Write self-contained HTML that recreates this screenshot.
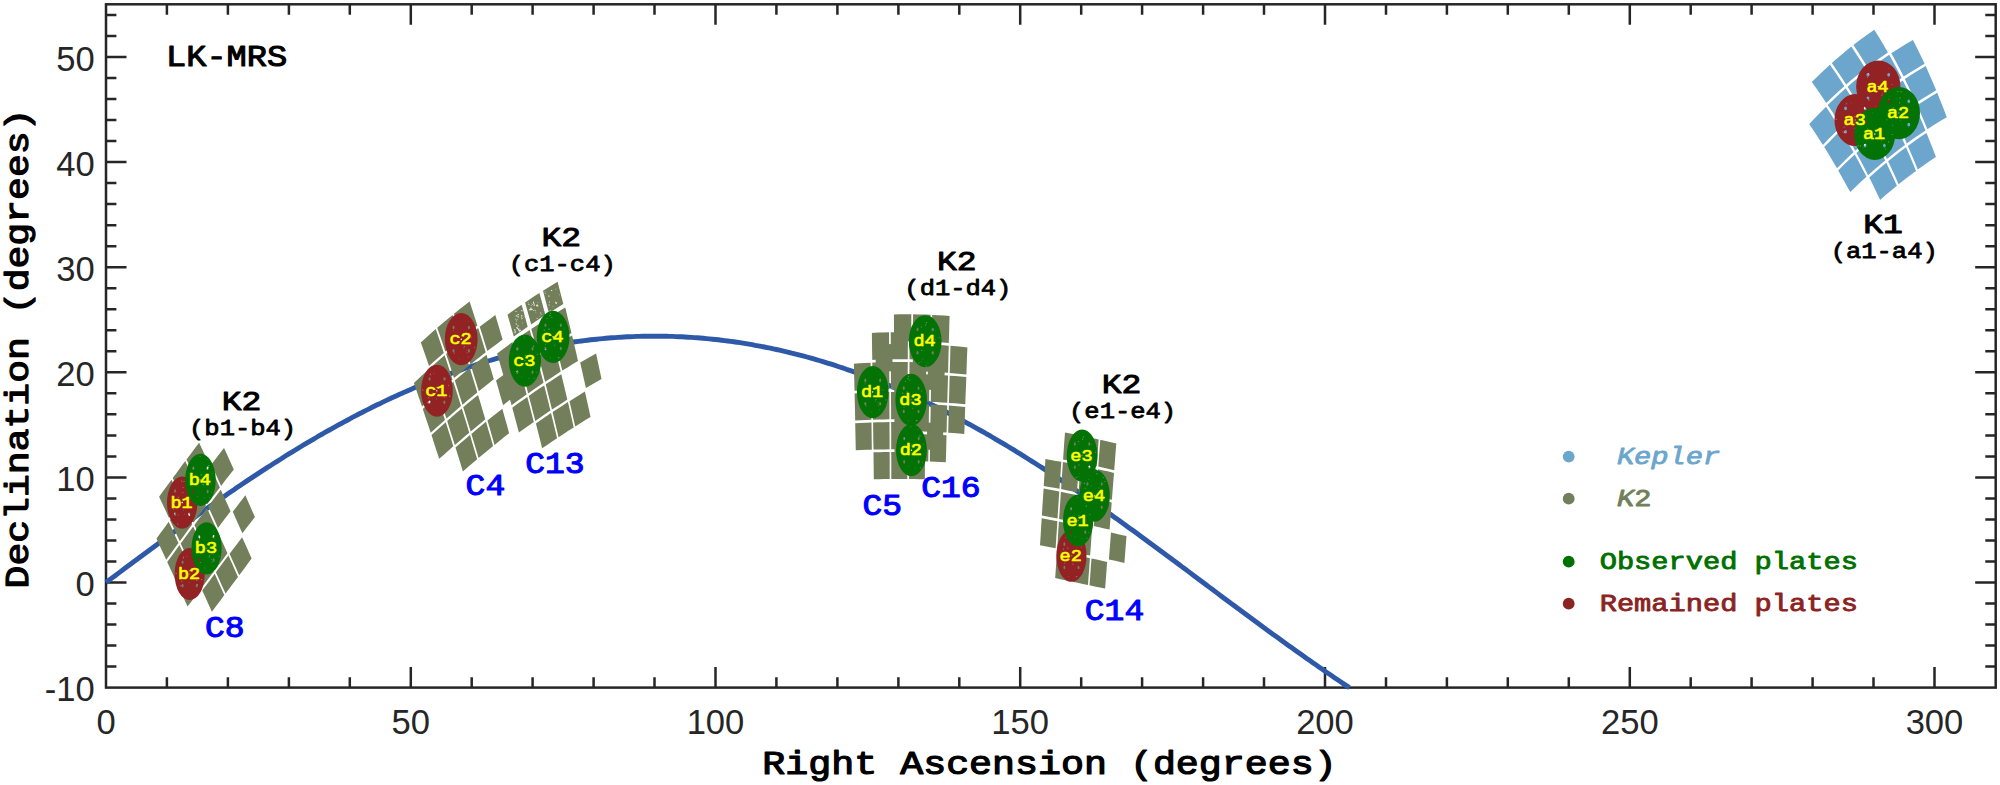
<!DOCTYPE html>
<html><head><meta charset="utf-8"><title>LK-MRS footprint</title>
<style>
html,body{margin:0;padding:0;background:#fff}
body{width:2000px;height:785px;overflow:hidden}
svg{display:block}
.m{font-family:"Liberation Mono","DejaVu Sans Mono",monospace;font-weight:normal;stroke-linejoin:round}
.s{font-family:"Liberation Sans","DejaVu Sans",sans-serif}
</style></head><body>
<svg width="2000" height="785" viewBox="0 0 2000 785">
<rect width="2000" height="785" fill="#fff"/>
<g stroke="#262626" stroke-width="2.5" fill="none">
<rect x="106.0" y="4.3" width="1889.7" height="683.3"/>
<path d="M166.9 687.6v-10.4M166.9 4.3v10.4M227.9 687.6v-10.4M227.9 4.3v10.4M288.9 687.6v-10.4M288.9 4.3v10.4M349.8 687.6v-10.4M349.8 4.3v10.4M410.8 687.6v-20.5M410.8 4.3v20.5M471.7 687.6v-10.4M471.7 4.3v10.4M532.6 687.6v-10.4M532.6 4.3v10.4M593.6 687.6v-10.4M593.6 4.3v10.4M654.5 687.6v-10.4M654.5 4.3v10.4M715.5 687.6v-20.5M715.5 4.3v20.5M776.4 687.6v-10.4M776.4 4.3v10.4M837.4 687.6v-10.4M837.4 4.3v10.4M898.4 687.6v-10.4M898.4 4.3v10.4M959.3 687.6v-10.4M959.3 4.3v10.4M1020.2 687.6v-20.5M1020.2 4.3v20.5M1081.2 687.6v-10.4M1081.2 4.3v10.4M1142.1 687.6v-10.4M1142.1 4.3v10.4M1203.1 687.6v-10.4M1203.1 4.3v10.4M1264.0 687.6v-10.4M1264.0 4.3v10.4M1325.0 687.6v-20.5M1325.0 4.3v20.5M1386.0 687.6v-10.4M1386.0 4.3v10.4M1446.9 687.6v-10.4M1446.9 4.3v10.4M1507.8 687.6v-10.4M1507.8 4.3v10.4M1568.8 687.6v-10.4M1568.8 4.3v10.4M1629.8 687.6v-20.5M1629.8 4.3v20.5M1690.7 687.6v-10.4M1690.7 4.3v10.4M1751.6 687.6v-10.4M1751.6 4.3v10.4M1812.6 687.6v-10.4M1812.6 4.3v10.4M1873.5 687.6v-10.4M1873.5 4.3v10.4M1934.5 687.6v-20.5M1934.5 4.3v20.5M106.0 666.6h10.4M1995.7 666.6h-10.4M106.0 645.6h10.4M1995.7 645.6h-10.4M106.0 624.5h10.4M1995.7 624.5h-10.4M106.0 603.5h10.4M1995.7 603.5h-10.4M106.0 582.5h20.5M1995.7 582.5h-20.5M106.0 561.5h10.4M1995.7 561.5h-10.4M106.0 540.5h10.4M1995.7 540.5h-10.4M106.0 519.4h10.4M1995.7 519.4h-10.4M106.0 498.4h10.4M1995.7 498.4h-10.4M106.0 477.4h20.5M1995.7 477.4h-20.5M106.0 456.4h10.4M1995.7 456.4h-10.4M106.0 435.4h10.4M1995.7 435.4h-10.4M106.0 414.3h10.4M1995.7 414.3h-10.4M106.0 393.3h10.4M1995.7 393.3h-10.4M106.0 372.3h20.5M1995.7 372.3h-20.5M106.0 351.3h10.4M1995.7 351.3h-10.4M106.0 330.3h10.4M1995.7 330.3h-10.4M106.0 309.2h10.4M1995.7 309.2h-10.4M106.0 288.2h10.4M1995.7 288.2h-10.4M106.0 267.2h20.5M1995.7 267.2h-20.5M106.0 246.2h10.4M1995.7 246.2h-10.4M106.0 225.2h10.4M1995.7 225.2h-10.4M106.0 204.1h10.4M1995.7 204.1h-10.4M106.0 183.1h10.4M1995.7 183.1h-10.4M106.0 162.1h20.5M1995.7 162.1h-20.5M106.0 141.1h10.4M1995.7 141.1h-10.4M106.0 120.1h10.4M1995.7 120.1h-10.4M106.0 99.0h10.4M1995.7 99.0h-10.4M106.0 78.0h10.4M1995.7 78.0h-10.4M106.0 57.0h20.5M1995.7 57.0h-20.5M106.0 36.0h10.4M1995.7 36.0h-10.4M106.0 15.0h10.4M1995.7 15.0h-10.4"/>
</g>
<g class="s" font-size="34.6" fill="#262626">
<text x="106.0" y="733.9" text-anchor="middle">0</text>
<text x="410.8" y="733.9" text-anchor="middle">50</text>
<text x="715.5" y="733.9" text-anchor="middle">100</text>
<text x="1020.2" y="733.9" text-anchor="middle">150</text>
<text x="1325.0" y="733.9" text-anchor="middle">200</text>
<text x="1629.8" y="733.9" text-anchor="middle">250</text>
<text x="1934.5" y="733.9" text-anchor="middle">300</text>
<text x="94.8" y="701.3" text-anchor="end">-10</text>
<text x="94.8" y="596.2" text-anchor="end">0</text>
<text x="94.8" y="491.1" text-anchor="end">10</text>
<text x="94.8" y="386.0" text-anchor="end">20</text>
<text x="94.8" y="280.9" text-anchor="end">30</text>
<text x="94.8" y="175.8" text-anchor="end">40</text>
<text x="94.8" y="70.7" text-anchor="end">50</text>
</g>
<path d="M106.0 582.5L109.0 580.2L112.1 577.9L115.1 575.7L118.2 573.4L121.2 571.1L124.3 568.8L127.3 566.6L130.4 564.3L133.4 562.0L136.5 559.8L139.5 557.5L142.6 555.2L145.6 553.0L148.7 550.7L151.7 548.5L154.8 546.2L157.8 544.0L160.9 541.7L163.9 539.5L166.9 537.2L170.0 535.0L173.0 532.8L176.1 530.6L179.1 528.4L182.2 526.2L185.2 524.0L188.3 521.8L191.3 519.6L194.4 517.4L197.4 515.2L200.5 513.0L203.5 510.9L206.6 508.7L209.6 506.6L212.7 504.4L215.7 502.3L218.8 500.2L221.8 498.1L224.9 495.9L227.9 493.8L230.9 491.8L234.0 489.7L237.0 487.6L240.1 485.5L243.1 483.5L246.2 481.4L249.2 479.4L252.3 477.4L255.3 475.4L258.4 473.4L261.4 471.4L264.5 469.4L267.5 467.4L270.6 465.5L273.6 463.5L276.7 461.6L279.7 459.7L282.8 457.7L285.8 455.8L288.9 453.9L291.9 452.1L294.9 450.2L298.0 448.3L301.0 446.5L304.1 444.7L307.1 442.9L310.2 441.1L313.2 439.3L316.3 437.5L319.3 435.7L322.4 434.0L325.4 432.2L328.5 430.5L331.5 428.8L334.6 427.1L337.6 425.4L340.7 423.8L343.7 422.1L346.8 420.5L349.8 418.8L352.8 417.2L355.9 415.6L358.9 414.0L362.0 412.5L365.0 410.9L368.1 409.4L371.1 407.8L374.2 406.3L377.2 404.8L380.3 403.4L383.3 401.9L386.4 400.4L389.4 399.0L392.5 397.6L395.5 396.2L398.6 394.8L401.6 393.4L404.7 392.1L407.7 390.7L410.8 389.4L413.8 388.1L416.8 386.8L419.9 385.5L422.9 384.2L426.0 383.0L429.0 381.8L432.1 380.6L435.1 379.4L438.2 378.2L441.2 377.0L444.3 375.8L447.3 374.7L450.4 373.6L453.4 372.5L456.5 371.4L459.5 370.3L462.6 369.3L465.6 368.2L468.7 367.2L471.7 366.2L474.7 365.2L477.8 364.2L480.8 363.3L483.9 362.3L486.9 361.4L490.0 360.5L493.0 359.6L496.1 358.7L499.1 357.9L502.2 357.0L505.2 356.2L508.3 355.4L511.3 354.6L514.4 353.8L517.4 353.1L520.5 352.3L523.5 351.6L526.6 350.9L529.6 350.2L532.6 349.5L535.7 348.9L538.7 348.2L541.8 347.6L544.8 347.0L547.9 346.4L550.9 345.8L554.0 345.3L557.0 344.7L560.1 344.2L563.1 343.7L566.2 343.2L569.2 342.7L572.3 342.2L575.3 341.8L578.4 341.4L581.4 341.0L584.5 340.6L587.5 340.2L590.6 339.8L593.6 339.5L596.6 339.2L599.7 338.9L602.7 338.6L605.8 338.3L608.8 338.0L611.9 337.8L614.9 337.6L618.0 337.4L621.0 337.2L624.1 337.0L627.1 336.8L630.2 336.7L633.2 336.6L636.3 336.4L639.3 336.4L642.4 336.3L645.4 336.2L648.5 336.2L651.5 336.2L654.5 336.1L657.6 336.2L660.6 336.2L663.7 336.2L666.7 336.3L669.8 336.4L672.8 336.4L675.9 336.6L678.9 336.7L682.0 336.8L685.0 337.0L688.1 337.2L691.1 337.4L694.2 337.6L697.2 337.8L700.3 338.0L703.3 338.3L706.4 338.6L709.4 338.9L712.5 339.2L715.5 339.5L718.5 339.8L721.6 340.2L724.6 340.6L727.7 341.0L730.7 341.4L733.8 341.8L736.8 342.2L739.9 342.7L742.9 343.2L746.0 343.7L749.0 344.2L752.1 344.7L755.1 345.3L758.2 345.8L761.2 346.4L764.3 347.0L767.3 347.6L770.4 348.2L773.4 348.9L776.4 349.5L779.5 350.2L782.5 350.9L785.6 351.6L788.6 352.3L791.7 353.1L794.7 353.8L797.8 354.6L800.8 355.4L803.9 356.2L806.9 357.0L810.0 357.9L813.0 358.7L816.1 359.6L819.1 360.5L822.2 361.4L825.2 362.3L828.3 363.3L831.3 364.2L834.4 365.2L837.4 366.2L840.4 367.2L843.5 368.2L846.5 369.3L849.6 370.3L852.6 371.4L855.7 372.5L858.7 373.6L861.8 374.7L864.8 375.8L867.9 377.0L870.9 378.2L874.0 379.4L877.0 380.6L880.1 381.8L883.1 383.0L886.2 384.2L889.2 385.5L892.3 386.8L895.3 388.1L898.4 389.4L901.4 390.7L904.4 392.1L907.5 393.4L910.5 394.8L913.6 396.2L916.6 397.6L919.7 399.0L922.7 400.4L925.8 401.9L928.8 403.4L931.9 404.8L934.9 406.3L938.0 407.8L941.0 409.4L944.1 410.9L947.1 412.5L950.2 414.0L953.2 415.6L956.3 417.2L959.3 418.8L962.3 420.5L965.4 422.1L968.4 423.8L971.5 425.4L974.5 427.1L977.6 428.8L980.6 430.5L983.7 432.2L986.7 434.0L989.8 435.7L992.8 437.5L995.9 439.3L998.9 441.1L1002.0 442.9L1005.0 444.7L1008.1 446.5L1011.1 448.3L1014.2 450.2L1017.2 452.1L1020.2 453.9L1023.3 455.8L1026.3 457.7L1029.4 459.7L1032.4 461.6L1035.5 463.5L1038.5 465.5L1041.6 467.4L1044.6 469.4L1047.7 471.4L1050.7 473.4L1053.8 475.4L1056.8 477.4L1059.9 479.4L1062.9 481.4L1066.0 483.5L1069.0 485.5L1072.1 487.6L1075.1 489.7L1078.2 491.8L1081.2 493.8L1084.2 495.9L1087.3 498.1L1090.3 500.2L1093.4 502.3L1096.4 504.4L1099.5 506.6L1102.5 508.7L1105.6 510.9L1108.6 513.0L1111.7 515.2L1114.7 517.4L1117.8 519.6L1120.8 521.8L1123.9 524.0L1126.9 526.2L1130.0 528.4L1133.0 530.6L1136.1 532.8L1139.1 535.0L1142.1 537.2L1145.2 539.5L1148.2 541.7L1151.3 544.0L1154.3 546.2L1157.4 548.5L1160.4 550.7L1163.5 553.0L1166.5 555.2L1169.6 557.5L1172.6 559.8L1175.7 562.0L1178.7 564.3L1181.8 566.6L1184.8 568.8L1187.9 571.1L1190.9 573.4L1194.0 575.7L1197.0 577.9L1200.1 580.2L1203.1 582.5L1206.1 584.8L1209.2 587.1L1212.2 589.3L1215.3 591.6L1218.3 593.9L1221.4 596.2L1224.4 598.4L1227.5 600.7L1230.5 603.0L1233.6 605.2L1236.6 607.5L1239.7 609.8L1242.7 612.0L1245.8 614.3L1248.8 616.5L1251.9 618.8L1254.9 621.0L1258.0 623.3L1261.0 625.5L1264.0 627.8L1267.1 630.0L1270.1 632.2L1273.2 634.4L1276.2 636.6L1279.3 638.8L1282.3 641.0L1285.4 643.2L1288.4 645.4L1291.5 647.6L1294.5 649.8L1297.6 652.0L1300.6 654.1L1303.7 656.3L1306.7 658.4L1309.8 660.6L1312.8 662.7L1315.9 664.8L1318.9 666.9L1322.0 669.1L1325.0 671.2L1328.0 673.2L1331.1 675.3L1334.1 677.4L1337.2 679.5L1340.2 681.5L1343.3 683.6L1346.3 685.6L1349.4 687.6" fill="none" stroke="#2e59a8" stroke-width="4.9" stroke-linejoin="round"/>
<path d="M1826.3 102.9L1832.2 97.3L1838.2 91.7L1844.3 86.2L1839.7 79.0L1834.9 71.8L1829.9 64.8L1823.7 70.5L1817.7 76.3L1811.8 82.1L1816.8 89.0L1821.6 95.9ZM1846.2 84.5L1852.5 79.1L1858.9 73.9L1865.5 68.7L1860.9 61.3L1856.2 53.9L1851.3 46.6L1844.7 52.0L1838.2 57.5L1831.8 63.1L1836.7 70.2L1841.5 77.3ZM1867.4 67.1L1874.2 62.1L1881.0 57.2L1887.9 52.4L1883.5 44.8L1879.0 37.2L1874.3 29.7L1867.2 34.7L1860.2 39.8L1853.4 45.0L1858.2 52.3L1862.9 59.7ZM1822.9 144.9L1828.3 139.3L1833.9 133.7L1839.6 128.1L1835.1 120.9L1830.6 113.8L1826.0 106.7L1820.3 112.5L1814.7 118.3L1809.2 124.1L1813.9 131.0L1818.4 137.9ZM1841.3 126.5L1847.1 121.1L1853.0 115.7L1859.1 110.4L1854.7 103.0L1850.3 95.6L1845.7 88.3L1839.6 93.8L1833.6 99.4L1827.7 105.0L1832.4 112.1L1836.9 119.3ZM1860.9 108.8L1867.1 103.7L1873.4 98.6L1879.8 93.6L1875.6 86.0L1871.2 78.4L1866.8 70.9L1860.3 76.1L1853.9 81.3L1847.6 86.7L1852.1 94.0L1856.6 101.4ZM1881.7 92.2L1888.2 87.3L1894.9 82.6L1901.6 78.0L1897.6 70.2L1893.5 62.4L1889.2 54.7L1882.3 59.5L1875.5 64.4L1868.8 69.4L1873.2 76.9L1877.5 84.5ZM1903.7 76.6L1910.5 72.2L1917.5 67.9L1924.6 63.7L1920.8 55.7L1916.9 47.8L1912.9 39.9L1905.6 44.2L1898.4 48.7L1891.3 53.3L1895.6 61.0L1899.7 68.8ZM1837.0 168.3L1842.4 162.9L1847.9 157.5L1853.5 152.2L1849.4 144.9L1845.2 137.6L1840.9 130.3L1835.2 135.8L1829.7 141.4L1824.2 147.0L1828.6 154.1L1832.8 161.2ZM1855.2 150.7L1860.9 145.4L1866.7 140.3L1872.7 135.2L1868.7 127.7L1864.6 120.1L1860.3 112.6L1854.3 117.9L1848.4 123.3L1842.6 128.7L1846.9 136.0L1851.1 143.3ZM1874.5 133.7L1880.5 128.8L1886.7 123.9L1892.9 119.1L1889.0 111.3L1885.1 103.6L1881.0 95.9L1874.6 100.9L1868.3 105.9L1862.2 111.1L1866.4 118.6L1870.5 126.1ZM1894.8 117.7L1901.1 113.1L1907.6 108.5L1914.1 104.1L1910.4 96.1L1906.7 88.2L1902.8 80.4L1896.1 84.9L1889.5 89.6L1882.9 94.5L1887.0 102.2L1890.9 109.9ZM1916.1 102.8L1922.7 98.5L1929.4 94.4L1936.2 90.3L1932.8 82.2L1929.3 74.2L1925.7 66.1L1918.6 70.3L1911.7 74.6L1904.8 79.0L1908.7 86.9L1912.4 94.8ZM1850.2 192.1L1855.5 186.9L1860.9 181.8L1866.5 176.7L1862.6 169.3L1858.7 161.8L1854.7 154.4L1849.1 159.7L1843.6 165.1L1838.2 170.5L1842.3 177.7L1846.3 184.9ZM1868.1 175.2L1873.7 170.2L1879.5 165.2L1885.2 160.4L1881.5 152.7L1877.7 145.1L1873.9 137.5L1867.9 142.5L1862.1 147.7L1856.4 152.9L1860.4 160.3L1864.3 167.7ZM1887.0 158.9L1892.9 154.2L1898.9 149.5L1905.0 144.9L1901.4 137.1L1897.8 129.3L1894.0 121.4L1887.8 126.2L1881.7 131.1L1875.6 136.0L1879.5 143.6L1883.3 151.3ZM1906.8 143.6L1912.9 139.1L1919.2 134.7L1925.5 130.5L1922.2 122.5L1918.7 114.5L1915.2 106.5L1908.7 110.9L1902.3 115.4L1895.9 120.0L1899.6 127.9L1903.3 135.7ZM1927.4 129.2L1933.8 125.1L1940.3 121.1L1946.8 117.2L1943.7 109.1L1940.5 100.9L1937.2 92.8L1930.5 96.8L1923.8 100.9L1917.1 105.2L1920.7 113.2L1924.1 121.2ZM1880.1 199.9L1885.6 195.1L1891.2 190.4L1896.9 185.7L1893.4 178.0L1889.9 170.4L1886.3 162.7L1880.6 167.5L1874.9 172.4L1869.3 177.4L1873.0 184.9L1876.6 192.4ZM1898.6 184.3L1904.3 179.8L1910.2 175.3L1916.0 170.9L1912.8 163.0L1909.4 155.1L1906.0 147.3L1899.9 151.8L1894.0 156.5L1888.1 161.2L1891.7 168.9L1895.2 176.6ZM1917.8 169.6L1923.8 165.3L1929.8 161.1L1935.9 157.0L1932.9 149.0L1929.7 140.9L1926.5 132.9L1920.2 137.1L1914.0 141.5L1907.8 145.9L1911.2 153.8L1914.6 161.7Z" fill="#6ca6cd"/>
<path d="M232.8 511.8L236.0 519.0L239.2 526.2L242.4 533.3L246.6 527.8L250.7 522.4L254.9 516.9L251.7 509.7L248.5 502.5L245.4 495.3L241.2 500.8L237.0 506.2ZM211.3 464.4L214.6 471.5L217.9 478.7L221.1 485.9L225.3 480.3L229.5 474.9L233.8 469.4L230.5 462.3L227.3 455.1L224.0 448.0L219.7 453.4L215.5 458.9ZM229.6 553.8L232.8 560.9L236.0 568.1L239.2 575.2L243.4 569.7L247.5 564.1L251.6 558.6L248.5 551.5L245.3 544.3L242.1 537.2L238.0 542.7L233.8 548.2ZM208.2 506.4L211.5 513.5L214.8 520.7L218.0 527.9L222.2 522.3L226.4 516.8L230.6 511.3L227.3 504.1L224.1 496.9L220.8 489.7L216.6 495.2L212.4 500.8ZM197.4 482.8L200.7 489.9L204.0 497.1L207.2 504.2L211.4 498.6L215.6 493.1L219.9 487.5L216.6 480.3L213.3 473.2L210.0 466.1L205.8 471.6L201.6 477.2ZM186.5 459.5L189.8 466.5L193.1 473.6L196.4 480.6L200.6 475.1L204.8 469.5L209.0 463.9L205.7 456.8L202.4 449.8L199.1 442.7L194.9 448.3L190.7 453.9ZM215.9 572.2L219.1 579.3L222.3 586.4L225.6 593.5L229.7 587.9L233.8 582.4L238.0 576.9L234.8 569.7L231.6 562.6L228.4 555.4L224.2 561.0L220.1 566.6ZM205.2 548.5L208.5 555.7L211.7 562.9L214.9 570.0L219.1 564.4L223.3 558.9L227.4 553.3L224.2 546.1L221.0 538.9L217.7 531.8L213.5 537.3L209.4 542.9ZM194.4 524.9L197.7 532.1L201.0 539.2L204.2 546.4L208.4 540.8L212.6 535.2L216.8 529.6L213.5 522.4L210.2 515.2L207.0 508.0L202.8 513.7L198.6 519.3ZM183.6 501.4L186.9 508.5L190.2 515.6L193.4 522.7L197.6 517.1L201.8 511.5L206.0 505.9L202.7 498.7L199.4 491.6L196.1 484.5L191.9 490.1L187.8 495.7ZM172.7 478.1L176.0 485.1L179.3 492.1L182.6 499.2L186.8 493.6L190.9 487.9L195.1 482.3L191.8 475.2L188.5 468.2L185.2 461.1L181.0 466.8L176.9 472.4ZM202.2 590.5L205.5 597.6L208.7 604.7L211.9 611.7L216.0 606.2L220.2 600.7L224.3 595.1L221.1 588.1L217.9 581.0L214.7 573.8L210.5 579.4L206.4 585.0ZM191.5 567.0L194.8 574.1L198.0 581.3L201.2 588.4L205.4 582.8L209.5 577.3L213.7 571.7L210.5 564.5L207.2 557.4L204.0 550.2L199.8 555.8L195.6 561.4ZM180.7 543.5L184.0 550.6L187.3 557.7L190.5 564.9L194.7 559.3L198.8 553.7L203.0 548.1L199.7 540.9L196.4 533.7L193.2 526.6L189.0 532.2L184.9 537.8ZM169.9 520.0L173.2 527.1L176.5 534.2L179.8 541.3L183.9 535.7L188.0 530.1L192.2 524.4L188.9 517.3L185.6 510.2L182.3 503.0L178.2 508.7L174.1 514.4ZM159.1 496.8L162.4 503.8L165.7 510.8L169.0 517.9L173.1 512.2L177.2 506.6L181.4 500.9L178.1 493.8L174.8 486.8L171.5 479.8L167.3 485.4L163.2 491.1ZM177.9 585.4L181.2 592.5L184.4 599.5L187.6 606.6L191.8 601.1L195.9 595.6L200.0 590.0L196.8 582.9L193.5 575.8L190.3 568.7L186.1 574.3L182.0 579.8ZM167.2 562.0L170.4 569.1L173.7 576.1L176.9 583.2L181.0 577.7L185.2 572.1L189.3 566.5L186.0 559.4L182.8 552.3L179.5 545.1L175.4 550.8L171.3 556.4ZM156.5 538.6L159.7 545.7L163.0 552.8L166.2 559.8L170.3 554.2L174.4 548.6L178.5 543.0L175.2 535.9L172.0 528.8L168.7 521.7L164.6 527.4L160.5 533.0Z" fill="#727f5a"/>
<path d="M496.0 380.6L498.4 388.8L500.7 397.0L503.1 405.2L508.0 401.3L513.0 397.6L517.9 393.8L515.7 385.6L513.4 377.4L511.1 369.1L506.1 372.9L501.0 376.7ZM479.7 326.7L482.3 334.8L484.8 343.0L487.3 351.1L492.4 347.2L497.5 343.4L502.6 339.6L500.2 331.4L497.8 323.2L495.3 315.1L490.1 318.9L484.9 322.8ZM487.5 420.6L489.9 428.7L492.2 436.8L494.5 444.9L499.4 441.0L504.2 437.1L509.1 433.3L506.9 425.1L504.6 417.0L502.3 408.8L497.3 412.7L492.4 416.6ZM471.3 366.8L473.8 374.9L476.3 383.1L478.8 391.2L483.8 387.2L488.8 383.2L493.8 379.3L491.4 371.1L488.9 362.9L486.5 354.7L481.4 358.7L476.3 362.7ZM462.8 340.1L465.4 348.2L468.0 356.2L470.5 364.4L475.6 360.3L480.7 356.3L485.7 352.3L483.2 344.1L480.7 336.0L478.2 327.9L473.0 331.9L467.9 336.0ZM454.0 313.7L456.7 321.7L459.4 329.6L462.0 337.7L467.1 333.6L472.3 329.5L477.4 325.5L474.8 317.4L472.2 309.4L469.6 301.4L464.4 305.4L459.2 309.5ZM471.4 433.9L473.8 442.0L476.2 450.0L478.6 458.1L483.4 454.1L488.3 450.1L493.1 446.1L490.8 438.0L488.4 429.9L486.0 421.8L481.1 425.8L476.3 429.8ZM463.2 407.2L465.7 415.3L468.2 423.4L470.7 431.5L475.5 427.4L480.4 423.4L485.3 419.3L482.9 411.2L480.5 403.0L478.0 394.9L473.1 399.0L468.1 403.1ZM454.8 380.5L457.4 388.6L459.9 396.7L462.5 404.8L467.4 400.6L472.3 396.5L477.3 392.4L474.8 384.3L472.3 376.2L469.8 368.0L464.8 372.1L459.8 376.3ZM446.1 354.0L448.8 362.0L451.4 370.0L454.0 378.1L459.0 373.9L464.0 369.7L469.0 365.6L466.5 357.5L463.9 349.4L461.3 341.3L456.2 345.5L451.2 349.7ZM437.2 327.8L440.0 335.7L442.7 343.6L445.3 351.6L450.4 347.3L455.4 343.1L460.5 338.9L457.8 330.9L455.2 322.9L452.5 315.0L447.4 319.2L442.3 323.5ZM455.5 447.5L458.0 455.5L460.5 463.4L462.9 471.4L467.6 467.3L472.4 463.3L477.2 459.3L474.8 451.2L472.4 443.2L470.0 435.1L465.1 439.2L460.3 443.3ZM447.2 421.0L449.7 429.0L452.3 437.1L454.8 445.1L459.6 440.9L464.4 436.8L469.2 432.7L466.8 424.6L464.3 416.5L461.8 408.4L456.9 412.6L452.0 416.8ZM438.6 394.6L441.2 402.6L443.8 410.6L446.4 418.6L451.3 414.4L456.1 410.2L461.0 406.0L458.5 397.9L455.9 389.8L453.3 381.8L448.4 386.0L443.5 390.3ZM429.8 368.3L432.5 376.3L435.2 384.2L437.8 392.2L442.7 387.9L447.6 383.6L452.5 379.4L449.9 371.3L447.3 363.3L444.6 355.3L439.7 359.6L434.7 364.0ZM420.8 342.4L423.6 350.2L426.3 358.1L429.0 366.0L433.9 361.6L438.9 357.2L443.8 352.9L441.2 344.9L438.5 337.0L435.7 329.1L430.7 333.5L425.8 337.9ZM431.5 435.1L434.0 443.0L436.6 450.9L439.2 458.8L443.9 454.7L448.6 450.5L453.3 446.3L450.8 438.3L448.3 430.3L445.7 422.3L441.0 426.5L436.2 430.8ZM422.8 409.0L425.4 416.9L428.1 424.8L430.7 432.7L435.4 428.4L440.2 424.2L445.0 419.9L442.4 411.9L439.8 403.9L437.2 395.9L432.3 400.2L427.6 404.6ZM413.9 383.0L416.6 390.8L419.3 398.7L422.0 406.6L426.8 402.2L431.6 397.8L436.4 393.5L433.7 385.5L431.1 377.6L428.4 369.7L423.5 374.1L418.7 378.5Z" fill="#727f5a"/>
<path d="M927.2 422.5L927.1 431.6L926.9 440.6L926.8 449.7L932.2 449.8L937.5 450.0L942.8 450.3L943.0 441.3L943.2 432.3L943.4 423.2L938.0 422.9L932.6 422.7ZM928.0 362.7L927.9 371.7L927.8 380.7L927.6 389.8L933.2 390.1L938.7 390.4L944.2 390.7L944.4 381.7L944.6 372.7L944.8 363.7L939.2 363.3L933.6 362.9ZM909.0 452.0L909.0 461.1L908.9 470.1L908.9 479.1L914.2 479.1L919.5 479.2L924.8 479.3L924.9 470.3L925.0 461.3L925.2 452.3L919.8 452.2L914.4 452.1ZM909.3 392.0L909.3 401.1L909.2 410.2L909.2 419.3L914.7 419.4L920.1 419.6L925.6 419.7L925.7 410.6L925.8 401.6L925.9 392.5L920.4 392.3L914.9 392.1ZM909.5 362.1L909.4 371.1L909.4 380.2L909.3 389.3L914.9 389.4L920.4 389.6L926.0 389.8L926.1 380.7L926.2 371.6L926.4 362.6L920.7 362.4L915.1 362.2ZM909.6 332.3L909.6 341.3L909.5 350.3L909.5 359.3L915.1 359.5L920.8 359.6L926.4 359.9L926.5 350.8L926.6 341.9L926.8 332.9L921.1 332.6L915.4 332.4ZM891.2 452.0L891.3 461.1L891.3 470.1L891.3 479.1L896.7 479.0L902.0 479.0L907.3 479.1L907.3 470.1L907.4 461.1L907.4 452.0L902.0 452.0L896.6 452.0ZM891.1 422.1L891.2 431.1L891.2 440.2L891.2 449.3L896.6 449.3L902.0 449.3L907.4 449.3L907.5 440.2L907.5 431.1L907.5 422.1L902.1 422.0L896.6 422.0ZM891.0 392.0L891.0 401.1L891.1 410.2L891.1 419.3L896.6 419.3L902.1 419.3L907.5 419.3L907.6 410.2L907.6 401.1L907.7 392.0L902.1 392.0L896.5 392.0ZM890.9 362.0L890.9 371.1L890.9 380.2L891.0 389.3L896.5 389.2L902.1 389.2L907.7 389.3L907.7 380.2L907.7 371.1L907.8 362.0L902.1 362.0L896.5 362.0ZM890.7 332.3L890.8 341.3L890.8 350.3L890.9 359.3L896.5 359.3L902.2 359.3L907.8 359.3L907.8 350.3L907.9 341.3L907.9 332.3L902.2 332.2L896.5 332.2ZM873.5 452.3L873.6 461.3L873.7 470.3L873.8 479.3L879.1 479.2L884.4 479.1L889.7 479.1L889.7 470.1L889.7 461.1L889.6 452.0L884.2 452.1L878.9 452.2ZM873.1 422.4L873.2 431.5L873.3 440.6L873.5 449.6L878.8 449.5L884.2 449.4L889.6 449.3L889.6 440.2L889.5 431.2L889.5 422.1L884.0 422.2L878.5 422.3ZM872.7 392.5L872.8 401.6L872.9 410.6L873.1 419.7L878.5 419.6L884.0 419.4L889.5 419.3L889.4 410.2L889.4 401.1L889.3 392.0L883.8 392.1L878.2 392.3ZM872.3 362.6L872.4 371.6L872.5 380.7L872.7 389.8L878.2 389.6L883.8 389.4L889.3 389.3L889.3 380.2L889.2 371.1L889.2 362.1L883.5 362.2L877.9 362.4ZM871.9 332.9L872.0 341.9L872.1 350.8L872.3 359.9L877.9 359.6L883.5 359.5L889.2 359.3L889.1 350.3L889.1 341.3L889.0 332.3L883.3 332.4L877.6 332.6ZM855.2 423.2L855.4 432.3L855.6 441.3L855.8 450.3L861.1 450.0L866.5 449.8L871.8 449.7L871.7 440.6L871.6 431.6L871.5 422.5L866.0 422.7L860.6 422.9ZM854.6 393.4L854.8 402.5L855.0 411.5L855.2 420.5L860.6 420.2L866.0 420.0L871.4 419.8L871.3 410.7L871.2 401.6L871.0 392.5L865.5 392.8L860.0 393.1ZM853.9 363.7L854.1 372.7L854.3 381.7L854.5 390.7L860.0 390.4L865.5 390.1L871.0 389.8L870.9 380.7L870.7 371.7L870.6 362.7L865.0 362.9L859.4 363.3Z" fill="#727f5a"/>
<path d="M1111.0 532.6L1110.3 541.6L1109.6 550.5L1108.9 559.5L1114.1 560.6L1119.3 561.8L1124.4 562.9L1125.1 554.0L1125.8 545.0L1126.5 536.1L1121.4 534.9L1116.2 533.7ZM1091.5 558.5L1090.8 567.5L1090.2 576.4L1089.5 585.3L1094.7 586.4L1099.9 587.5L1105.1 588.6L1105.8 579.7L1106.5 570.8L1107.1 561.9L1101.9 560.7L1096.7 559.6ZM1095.8 499.0L1095.2 508.0L1094.5 517.0L1093.8 526.1L1099.1 527.2L1104.4 528.4L1109.6 529.5L1110.3 520.5L1111.0 511.5L1111.7 502.5L1106.4 501.3L1101.1 500.1ZM1098.1 469.2L1097.4 478.2L1096.7 487.3L1096.0 496.3L1101.3 497.4L1106.6 498.6L1111.9 499.8L1112.6 490.8L1113.3 481.8L1114.0 472.9L1108.7 471.6L1103.4 470.4ZM1100.3 439.7L1099.6 448.6L1098.9 457.6L1098.3 466.6L1103.6 467.7L1108.9 468.9L1114.2 470.2L1114.9 461.2L1115.6 452.3L1116.3 443.4L1111.0 442.2L1105.6 440.9ZM1074.2 554.9L1073.6 563.9L1073.0 572.8L1072.4 581.7L1077.6 582.8L1082.8 583.9L1088.0 585.0L1088.6 576.1L1089.3 567.2L1089.9 558.2L1084.7 557.1L1079.5 556.0ZM1076.3 525.1L1075.7 534.2L1075.0 543.2L1074.4 552.2L1079.6 553.3L1084.9 554.4L1090.1 555.5L1090.8 546.5L1091.4 537.5L1092.1 528.4L1086.8 527.3L1081.5 526.2ZM1078.4 495.3L1077.7 504.3L1077.1 513.4L1076.5 522.4L1081.7 523.5L1087.0 524.6L1092.3 525.7L1092.9 516.7L1093.6 507.7L1094.3 498.6L1089.0 497.5L1083.7 496.4ZM1080.5 465.5L1079.8 474.5L1079.2 483.6L1078.6 492.6L1083.9 493.7L1089.2 494.8L1094.5 495.9L1095.1 486.9L1095.8 477.9L1096.5 468.9L1091.1 467.8L1085.8 466.6ZM1082.6 436.0L1082.0 444.9L1081.3 453.9L1080.7 462.8L1086.0 463.9L1091.3 465.1L1096.7 466.2L1097.3 457.2L1098.0 448.3L1098.7 439.4L1093.4 438.2L1088.0 437.1ZM1057.0 551.3L1056.4 560.3L1055.8 569.2L1055.2 578.1L1060.4 579.2L1065.6 580.3L1070.8 581.4L1071.4 572.5L1072.0 563.5L1072.7 554.6L1067.4 553.5L1062.2 552.4ZM1058.9 521.6L1058.3 530.6L1057.8 539.6L1057.2 548.6L1062.4 549.7L1067.6 550.8L1072.8 551.9L1073.5 542.9L1074.1 533.8L1074.7 524.8L1069.4 523.7L1064.2 522.7ZM1060.9 491.8L1060.3 500.9L1059.7 509.9L1059.1 518.9L1064.4 520.0L1069.6 521.0L1074.9 522.1L1075.5 513.1L1076.2 504.0L1076.8 495.0L1071.5 493.9L1066.2 492.9ZM1062.9 462.1L1062.3 471.1L1061.7 480.1L1061.1 489.1L1066.4 490.2L1071.7 491.2L1077.0 492.3L1077.6 483.2L1078.3 474.2L1078.9 465.2L1073.6 464.2L1068.2 463.1ZM1065.0 432.6L1064.3 441.5L1063.7 450.5L1063.1 459.4L1068.4 460.4L1073.8 461.5L1079.1 462.5L1079.7 453.5L1080.4 444.6L1081.0 435.7L1075.7 434.6L1070.3 433.6ZM1041.7 518.3L1041.1 527.3L1040.6 536.2L1040.0 545.2L1045.2 546.2L1050.4 547.3L1055.6 548.3L1056.2 539.3L1056.8 530.3L1057.4 521.3L1052.1 520.3L1046.9 519.3ZM1043.6 488.6L1043.0 497.6L1042.4 506.6L1041.9 515.6L1047.1 516.6L1052.3 517.6L1057.5 518.6L1058.1 509.6L1058.7 500.6L1059.3 491.5L1054.1 490.5L1048.8 489.6ZM1045.4 459.0L1044.9 468.0L1044.3 477.0L1043.7 485.9L1049.0 486.9L1054.2 487.8L1059.5 488.8L1060.1 479.8L1060.7 470.8L1061.3 461.8L1056.0 460.9L1050.7 459.9Z" fill="#727f5a"/>
<path d="M580.2 362.6L582.1 371.1L584.0 379.6L585.9 388.1L591.1 385.0L596.3 382.0L601.5 379.0L599.7 370.5L597.9 361.9L596.1 353.4L590.8 356.4L585.5 359.5ZM569.5 401.2L571.4 409.6L573.3 418.0L575.2 426.4L580.3 423.2L585.4 420.1L590.5 417.0L588.7 408.5L586.8 400.1L584.9 391.6L579.8 394.7L574.6 397.9ZM556.0 345.2L558.1 353.7L560.2 362.2L562.3 370.6L567.5 367.4L572.8 364.1L578.0 361.0L576.1 352.4L574.1 343.9L572.1 335.4L566.7 338.6L561.4 341.9ZM549.0 317.4L551.1 325.8L553.3 334.2L555.4 342.7L560.7 339.4L566.1 336.1L571.5 332.9L569.4 324.4L567.3 315.9L565.3 307.5L559.8 310.7L554.4 314.0ZM543.0 290.7L544.9 298.1L546.9 305.5L548.9 312.9L553.7 309.9L558.5 306.9L563.3 304.1L561.4 296.6L559.5 289.2L557.6 281.8L552.7 284.8L547.8 287.7ZM552.6 412.1L554.6 420.5L556.6 428.9L558.6 437.2L563.6 433.9L568.7 430.6L573.7 427.4L571.8 419.0L569.9 410.6L567.9 402.1L562.8 405.4L557.7 408.7ZM545.7 384.3L547.8 392.7L549.9 401.2L552.0 409.6L557.1 406.2L562.2 402.9L567.3 399.6L565.3 391.1L563.3 382.7L561.3 374.2L556.1 377.5L550.9 380.9ZM538.6 356.6L540.8 365.0L543.0 373.4L545.1 381.8L550.3 378.4L555.5 375.0L560.7 371.6L558.6 363.2L556.6 354.7L554.5 346.2L549.2 349.6L543.9 353.1ZM531.3 328.9L533.6 337.3L535.8 345.6L538.0 354.0L543.2 350.5L548.5 347.1L553.8 343.7L551.7 335.3L549.5 326.8L547.3 318.4L542.0 321.9L536.6 325.4ZM525.1 302.4L527.1 309.7L529.1 317.0L531.2 324.4L535.9 321.2L540.6 318.1L545.4 315.1L543.4 307.7L541.4 300.3L539.4 293.0L534.6 296.1L529.8 299.2ZM535.9 423.4L538.0 431.7L540.1 440.0L542.1 448.3L547.1 444.9L552.1 441.5L557.1 438.2L555.1 429.9L553.1 421.5L551.0 413.1L546.0 416.5L540.9 419.9ZM528.8 395.9L531.0 404.2L533.1 412.5L535.3 420.9L540.3 417.4L545.3 414.0L550.4 410.6L548.4 402.2L546.3 393.8L544.2 385.4L539.0 388.8L533.9 392.3ZM521.5 368.3L523.8 376.7L526.0 385.0L528.2 393.4L533.3 389.8L538.4 386.3L543.5 382.8L541.4 374.4L539.2 366.0L537.1 357.6L531.9 361.1L526.7 364.7ZM514.0 341.0L516.3 349.3L518.6 357.5L520.8 365.9L526.0 362.2L531.2 358.6L536.4 355.1L534.2 346.7L532.0 338.3L529.7 330.0L524.4 333.6L519.2 337.3ZM507.5 314.7L509.6 321.9L511.7 329.2L513.8 336.4L518.4 333.2L523.1 329.9L527.7 326.7L525.7 319.4L523.7 312.0L521.6 304.8L516.9 308.0L512.2 311.3ZM512.3 407.7L514.5 416.0L516.7 424.2L518.9 432.4L523.8 428.9L528.8 425.4L533.8 421.9L531.6 413.6L529.5 405.3L527.3 396.9L522.3 400.5L517.2 404.1ZM504.8 380.5L507.1 388.8L509.3 397.0L511.6 405.2L516.6 401.6L521.6 398.0L526.6 394.4L524.4 386.1L522.2 377.8L520.0 369.4L514.9 373.1L509.8 376.8ZM497.1 353.5L499.4 361.6L501.8 369.8L504.1 378.1L509.1 374.3L514.2 370.6L519.3 366.9L517.0 358.6L514.7 350.4L512.4 342.1L507.3 345.9L502.2 349.7Z" fill="#727f5a"/>
<path d="M548.3 295.6h1.1v1.1h-1.1zM558.9 294.6h0.7v0.7h-0.7zM551.0 289.9h1.2v1.2h-1.2zM548.9 301.5h1.0v1.0h-1.0zM552.5 306.5h0.6v0.6h-0.6zM548.6 304.4h1.0v1.0h-1.0zM545.0 292.7h0.7v0.7h-0.7zM544.8 293.0h0.7v0.7h-0.7zM544.6 291.4h0.7v0.7h-0.7zM555.3 289.4h0.6v0.6h-0.6zM555.8 288.0h0.6v0.6h-0.6zM549.8 310.2h0.9v0.9h-0.9zM549.6 310.6h0.9v0.9h-0.9zM555.2 301.7h1.3v1.3h-1.3zM555.6 302.8h1.3v1.3h-1.3zM527.9 302.4h0.7v0.7h-0.7zM528.0 303.8h0.7v0.7h-0.7zM528.7 304.2h0.7v0.7h-0.7zM533.6 304.9h1.1v1.1h-1.1zM534.9 310.3h0.7v0.7h-0.7zM535.5 311.8h0.7v0.7h-0.7zM533.0 301.4h1.0v1.0h-1.0zM534.0 304.0h0.8v0.8h-0.8zM532.1 304.2h0.8v0.8h-0.8zM533.0 302.5h1.0v1.0h-1.0zM533.6 303.6h1.0v1.0h-1.0zM529.7 308.8h1.3v1.3h-1.3zM529.2 309.1h1.3v1.3h-1.3zM530.4 308.6h1.3v1.3h-1.3zM534.6 309.7h0.8v0.8h-0.8zM533.2 310.0h0.8v0.8h-0.8zM531.4 303.3h0.5v0.5h-0.5zM539.5 315.9h0.6v0.6h-0.6zM530.9 304.9h0.8v0.8h-0.8zM536.7 318.1h0.8v0.8h-0.8zM537.6 302.1h0.6v0.6h-0.6zM536.5 304.5h1.3v1.3h-1.3zM536.0 305.0h1.3v1.3h-1.3zM537.0 305.2h1.3v1.3h-1.3zM530.4 307.4h1.0v1.0h-1.0zM531.5 309.3h1.0v1.0h-1.0zM531.6 308.8h1.0v1.0h-1.0zM540.1 313.6h0.7v0.7h-0.7zM541.3 313.7h0.7v0.7h-0.7zM540.1 312.3h0.7v0.7h-0.7zM517.4 325.2h1.2v1.2h-1.2zM515.9 323.4h1.2v1.2h-1.2zM515.6 323.4h1.2v1.2h-1.2zM517.5 313.9h1.3v1.3h-1.3zM514.7 331.0h1.1v1.1h-1.1zM514.0 329.6h1.1v1.1h-1.1zM516.9 327.7h1.2v1.2h-1.2zM518.2 328.4h1.2v1.2h-1.2zM516.3 327.0h1.2v1.2h-1.2zM521.2 310.1h1.2v1.2h-1.2zM522.3 315.0h0.6v0.6h-0.6zM524.3 316.5h0.6v0.6h-0.6zM523.2 317.2h0.6v0.6h-0.6zM520.9 315.2h1.2v1.2h-1.2zM520.9 317.3h0.8v0.8h-0.8zM522.0 317.9h0.8v0.8h-0.8zM521.0 318.4h0.8v0.8h-0.8zM518.0 328.6h1.3v1.3h-1.3zM518.9 330.3h1.3v1.3h-1.3zM519.6 329.7h1.3v1.3h-1.3zM515.3 329.4h0.6v0.6h-0.6zM514.3 329.3h0.6v0.6h-0.6zM514.9 330.0h0.6v0.6h-0.6zM515.1 311.2h0.7v0.7h-0.7zM516.1 311.0h0.7v0.7h-0.7zM514.6 331.7h0.8v0.8h-0.8zM513.8 332.5h0.8v0.8h-0.8zM515.0 332.5h0.8v0.8h-0.8zM517.5 316.2h1.3v1.3h-1.3zM515.8 315.2h1.3v1.3h-1.3zM515.2 318.8h0.8v0.8h-0.8zM516.2 320.6h0.8v0.8h-0.8zM516.7 319.0h0.8v0.8h-0.8zM522.1 322.8h0.6v0.6h-0.6zM519.7 329.8h0.9v0.9h-0.9zM518.7 330.6h0.9v0.9h-0.9zM518.5 329.9h0.9v0.9h-0.9z" fill="#fff" fill-opacity=".8"/>
<path d="M892.5 371.3L892.5 362.2L892.4 353.2L892.4 344.1L886.7 344.3L881.1 344.5L875.4 344.8L875.6 353.8L875.7 362.8L875.8 371.8L881.4 371.6L886.9 371.4ZM911.2 341.3L911.2 332.3L911.3 323.2L911.3 314.3L905.5 314.2L899.7 314.3L893.9 314.4L894.0 323.4L894.0 332.4L894.1 341.4L899.8 341.3L905.5 341.3ZM910.9 401.3L910.9 392.2L911.0 383.1L911.0 374.0L905.4 373.9L899.8 373.9L894.2 374.0L894.2 383.1L894.3 392.2L894.3 401.2L899.8 401.2L905.3 401.2ZM910.7 431.3L910.8 422.2L910.8 413.1L910.9 404.0L905.3 404.0L899.8 403.9L894.3 404.0L894.4 413.0L894.4 422.1L894.4 431.2L899.9 431.2L905.3 431.2ZM910.6 461.0L910.6 452.0L910.7 443.0L910.7 434.0L905.3 433.9L899.9 433.9L894.5 433.9L894.5 442.9L894.5 451.9L894.6 460.8L899.9 460.9L905.2 460.9ZM930.0 341.8L930.2 332.8L930.3 323.8L930.5 314.8L924.7 314.5L918.9 314.4L913.1 314.3L913.0 323.3L913.0 332.3L912.9 341.3L918.6 341.4L924.3 341.6ZM929.6 371.8L929.7 362.7L929.9 353.6L930.0 344.5L924.3 344.3L918.6 344.1L912.9 344.0L912.8 353.1L912.8 362.2L912.7 371.3L918.3 371.4L923.9 371.6ZM929.1 401.8L929.2 392.7L929.4 383.6L929.5 374.5L923.9 374.3L918.3 374.1L912.7 374.0L912.6 383.1L912.6 392.2L912.5 401.3L918.1 401.4L923.6 401.6ZM928.7 431.8L928.8 422.7L928.9 413.6L929.1 404.5L923.5 404.3L918.0 404.2L912.5 404.1L912.5 413.1L912.4 422.2L912.4 431.3L917.8 431.4L923.2 431.6ZM928.2 461.5L928.4 452.5L928.5 443.5L928.6 434.5L923.2 434.3L917.8 434.1L912.3 434.0L912.3 443.1L912.2 452.1L912.2 461.1L917.5 461.2L922.9 461.3ZM948.8 342.9L949.1 333.9L949.3 324.9L949.6 316.0L943.8 315.5L938.0 315.2L932.2 314.9L932.1 323.8L931.9 332.9L931.8 341.9L937.5 342.2L943.2 342.5ZM948.1 372.8L948.3 363.7L948.5 354.7L948.8 345.7L943.1 345.2L937.4 344.9L931.7 344.6L931.6 353.7L931.4 362.7L931.3 371.8L936.9 372.1L942.5 372.4ZM947.3 402.8L947.5 393.7L947.8 384.6L948.0 375.5L942.4 375.2L936.8 374.8L931.2 374.6L931.1 383.7L930.9 392.8L930.8 401.9L936.3 402.1L941.8 402.4ZM946.6 432.6L946.8 423.6L947.0 414.5L947.2 405.5L941.7 405.1L936.2 404.8L930.7 404.6L930.6 413.7L930.4 422.8L930.3 431.8L935.7 432.1L941.1 432.3ZM945.8 462.3L946.1 453.3L946.3 444.4L946.5 435.3L941.1 435.0L935.7 434.8L930.2 434.5L930.1 443.6L930.0 452.6L929.8 461.6L935.2 461.8L940.5 462.0ZM966.4 374.4L966.7 365.4L967.0 356.4L967.4 347.4L961.8 346.8L956.1 346.3L950.5 345.8L950.2 354.8L950.0 363.9L949.7 372.9L955.3 373.4L960.9 373.9ZM965.3 404.2L965.6 395.1L966.0 386.1L966.3 377.1L960.8 376.6L955.2 376.1L949.7 375.7L949.4 384.7L949.2 393.8L948.9 402.9L954.4 403.3L959.9 403.7ZM964.3 433.9L964.6 424.9L964.9 415.9L965.2 406.9L959.8 406.4L954.3 406.0L948.9 405.6L948.6 414.7L948.4 423.7L948.2 432.7L953.6 433.1L958.9 433.5Z" fill="#727f5a"/>
<path fill-rule="evenodd" d="M1834.46 120.06a20.93 26.06 0 1 0 41.86 0a20.93 26.06 0 1 0 -41.86 0ZM1844.16 108.39a1.40 1.79 0 1 0 2.80 0a1.40 1.79 0 1 0 -2.80 0ZM1844.16 131.73a1.40 1.79 0 1 0 2.80 0a1.40 1.79 0 1 0 -2.80 0ZM1863.82 108.39a1.40 1.79 0 1 0 2.80 0a1.40 1.79 0 1 0 -2.80 0ZM1863.82 131.73a1.40 1.79 0 1 0 2.80 0a1.40 1.79 0 1 0 -2.80 0ZM1854.59 120.06a0.80 0.80 0 1 0 1.60 0a0.80 0.80 0 1 0 -1.60 0Z" fill="#922224"/>
<path d="M1842.4 131.3h1.3v1.3h-1.3zM1871.3 125.0h1.3v1.3h-1.3zM1854.0 127.9h0.9v0.9h-0.9zM1864.2 125.9h1.2v1.2h-1.2zM1846.4 102.7h0.9v0.9h-0.9zM1853.6 121.5h0.8v0.8h-0.8zM1854.1 116.1h1.2v1.2h-1.2zM1869.9 114.3h1.0v1.0h-1.0zM1835.6 118.8h1.3v1.3h-1.3zM1843.5 126.6h1.2v1.2h-1.2zM1848.5 122.0h1.0v1.0h-1.0zM1865.9 107.4h0.8v0.8h-0.8zM1850.8 102.4h0.8v0.8h-0.8zM1845.8 103.4h1.2v1.2h-1.2z" fill="#fff" fill-opacity=".28"/>
<path fill-rule="evenodd" d="M1856.15 86.53a22.15 26.06 0 1 0 44.30 0a22.15 26.06 0 1 0 -44.30 0ZM1866.42 74.87a1.48 1.79 0 1 0 2.96 0a1.48 1.79 0 1 0 -2.96 0ZM1866.42 98.20a1.48 1.79 0 1 0 2.96 0a1.48 1.79 0 1 0 -2.96 0ZM1887.23 74.87a1.48 1.79 0 1 0 2.96 0a1.48 1.79 0 1 0 -2.96 0ZM1887.23 98.20a1.48 1.79 0 1 0 2.96 0a1.48 1.79 0 1 0 -2.96 0ZM1877.50 86.53a0.80 0.80 0 1 0 1.60 0a0.80 0.80 0 1 0 -1.60 0Z" fill="#922224"/>
<path d="M1887.8 91.9h0.7v0.7h-0.7zM1896.0 94.0h1.0v1.0h-1.0zM1874.1 90.1h1.2v1.2h-1.2zM1881.3 95.0h0.9v0.9h-0.9zM1885.6 99.7h0.9v0.9h-0.9zM1891.6 84.1h1.0v1.0h-1.0zM1885.1 97.0h0.9v0.9h-0.9zM1887.4 84.4h0.7v0.7h-0.7zM1868.5 100.1h1.0v1.0h-1.0zM1887.3 103.9h0.8v0.8h-0.8zM1867.2 77.2h0.8v0.8h-0.8zM1881.9 93.5h1.1v1.1h-1.1zM1875.1 105.8h0.8v0.8h-0.8zM1888.0 68.3h0.6v0.6h-0.6z" fill="#fff" fill-opacity=".28"/>
<path fill-rule="evenodd" d="M167.00 502.62a15.19 26.06 0 1 0 30.38 0a15.19 26.06 0 1 0 -30.38 0ZM174.04 490.96a1.01 1.79 0 1 0 2.02 0a1.01 1.79 0 1 0 -2.02 0ZM174.04 514.29a1.01 1.79 0 1 0 2.02 0a1.01 1.79 0 1 0 -2.02 0ZM188.31 490.96a1.01 1.79 0 1 0 2.02 0a1.01 1.79 0 1 0 -2.02 0ZM188.31 514.29a1.01 1.79 0 1 0 2.02 0a1.01 1.79 0 1 0 -2.02 0ZM181.39 502.62a0.80 0.80 0 1 0 1.60 0a0.80 0.80 0 1 0 -1.60 0Z" fill="#922224"/>
<path d="M177.8 496.8h1.3v1.3h-1.3zM173.2 508.8h1.0v1.0h-1.0zM181.1 480.5h1.2v1.2h-1.2zM177.2 523.6h1.1v1.1h-1.1zM178.5 504.1h0.9v0.9h-0.9zM177.4 514.4h1.0v1.0h-1.0zM184.3 514.1h0.6v0.6h-0.6zM183.4 480.9h1.2v1.2h-1.2zM174.3 502.3h0.8v0.8h-0.8zM182.3 491.9h1.2v1.2h-1.2zM182.6 486.9h1.1v1.1h-1.1zM175.2 501.6h0.9v0.9h-0.9zM183.2 509.7h0.7v0.7h-0.7zM179.2 499.0h1.0v1.0h-1.0z" fill="#fff" fill-opacity=".28"/>
<path fill-rule="evenodd" d="M174.62 573.99a15.06 26.06 0 1 0 30.12 0a15.06 26.06 0 1 0 -30.12 0ZM181.60 562.32a1.01 1.79 0 1 0 2.02 0a1.01 1.79 0 1 0 -2.02 0ZM181.60 585.65a1.01 1.79 0 1 0 2.02 0a1.01 1.79 0 1 0 -2.02 0ZM195.75 562.32a1.01 1.79 0 1 0 2.02 0a1.01 1.79 0 1 0 -2.02 0ZM195.75 585.65a1.01 1.79 0 1 0 2.02 0a1.01 1.79 0 1 0 -2.02 0ZM188.88 573.99a0.80 0.80 0 1 0 1.60 0a0.80 0.80 0 1 0 -1.60 0Z" fill="#922224"/>
<path d="M180.3 585.2h1.3v1.3h-1.3zM201.1 578.9h1.3v1.3h-1.3zM188.7 581.9h0.9v0.9h-0.9zM196.0 579.8h1.2v1.2h-1.2zM183.2 556.6h0.9v0.9h-0.9zM188.4 575.5h0.8v0.8h-0.8zM188.8 570.1h1.2v1.2h-1.2zM200.2 568.2h1.0v1.0h-1.0zM175.5 572.7h1.3v1.3h-1.3zM181.1 580.5h1.2v1.2h-1.2zM184.7 575.9h1.0v1.0h-1.0zM197.2 561.3h0.8v0.8h-0.8zM186.4 556.3h0.8v0.8h-0.8zM182.8 557.3h1.2v1.2h-1.2z" fill="#fff" fill-opacity=".28"/>
<path fill-rule="evenodd" d="M421.11 390.69a15.85 26.06 0 1 0 31.70 0a15.85 26.06 0 1 0 -31.70 0ZM428.45 379.03a1.06 1.79 0 1 0 2.12 0a1.06 1.79 0 1 0 -2.12 0ZM428.45 402.36a1.06 1.79 0 1 0 2.12 0a1.06 1.79 0 1 0 -2.12 0ZM443.34 379.03a1.06 1.79 0 1 0 2.12 0a1.06 1.79 0 1 0 -2.12 0ZM443.34 402.36a1.06 1.79 0 1 0 2.12 0a1.06 1.79 0 1 0 -2.12 0ZM436.16 390.69a0.80 0.80 0 1 0 1.60 0a0.80 0.80 0 1 0 -1.60 0Z" fill="#922224"/>
<path d="M427.1 401.9h1.3v1.3h-1.3zM449.0 395.6h1.3v1.3h-1.3zM435.9 398.6h0.9v0.9h-0.9zM443.6 396.5h1.2v1.2h-1.2zM430.1 373.3h0.9v0.9h-0.9zM435.6 392.2h0.8v0.8h-0.8zM436.0 386.8h1.2v1.2h-1.2zM448.0 384.9h1.0v1.0h-1.0zM422.0 389.4h1.3v1.3h-1.3zM427.9 397.3h1.2v1.2h-1.2zM431.7 392.7h1.0v1.0h-1.0zM444.9 378.1h0.8v0.8h-0.8zM433.5 373.0h0.8v0.8h-0.8zM429.7 374.0h1.2v1.2h-1.2z" fill="#fff" fill-opacity=".28"/>
<path fill-rule="evenodd" d="M444.85 339.19a16.37 26.06 0 1 0 32.74 0a16.37 26.06 0 1 0 -32.74 0ZM452.44 327.53a1.09 1.79 0 1 0 2.18 0a1.09 1.79 0 1 0 -2.18 0ZM452.44 350.86a1.09 1.79 0 1 0 2.18 0a1.09 1.79 0 1 0 -2.18 0ZM467.82 327.53a1.09 1.79 0 1 0 2.18 0a1.09 1.79 0 1 0 -2.18 0ZM467.82 350.86a1.09 1.79 0 1 0 2.18 0a1.09 1.79 0 1 0 -2.18 0ZM460.42 339.19a0.80 0.80 0 1 0 1.60 0a0.80 0.80 0 1 0 -1.60 0Z" fill="#922224"/>
<path d="M468.2 344.6h0.7v0.7h-0.7zM474.3 346.7h1.0v1.0h-1.0zM458.1 342.8h1.2v1.2h-1.2zM463.4 347.7h0.9v0.9h-0.9zM466.6 352.3h0.9v0.9h-0.9zM471.1 336.7h1.0v1.0h-1.0zM466.2 349.7h0.9v0.9h-0.9zM467.9 337.1h0.7v0.7h-0.7zM454.0 352.8h1.0v1.0h-1.0zM467.8 356.6h0.8v0.8h-0.8zM453.0 329.9h0.8v0.8h-0.8zM463.8 346.1h1.1v1.1h-1.1zM458.9 358.5h0.8v0.8h-0.8zM468.4 321.0h0.6v0.6h-0.6z" fill="#fff" fill-opacity=".28"/>
<path fill-rule="evenodd" d="M1056.38 555.80a15.07 26.06 0 1 0 30.14 0a15.07 26.06 0 1 0 -30.14 0ZM1063.36 544.14a1.01 1.79 0 1 0 2.02 0a1.01 1.79 0 1 0 -2.02 0ZM1063.36 567.47a1.01 1.79 0 1 0 2.02 0a1.01 1.79 0 1 0 -2.02 0ZM1077.52 544.14a1.01 1.79 0 1 0 2.02 0a1.01 1.79 0 1 0 -2.02 0ZM1077.52 567.47a1.01 1.79 0 1 0 2.02 0a1.01 1.79 0 1 0 -2.02 0ZM1070.65 555.80a0.80 0.80 0 1 0 1.60 0a0.80 0.80 0 1 0 -1.60 0Z" fill="#922224"/>
<path d="M1067.9 533.9h1.3v1.3h-1.3zM1067.1 547.5h1.3v1.3h-1.3zM1080.9 546.6h0.9v0.9h-0.9zM1062.8 548.5h1.2v1.2h-1.2zM1069.7 535.8h1.0v1.0h-1.0zM1066.6 552.6h0.8v0.8h-0.8zM1077.4 576.4h0.7v0.7h-0.7zM1064.2 562.8h0.9v0.9h-0.9zM1068.6 576.5h0.7v0.7h-0.7zM1068.4 531.7h1.1v1.1h-1.1zM1072.3 563.6h1.1v1.1h-1.1zM1061.2 555.5h0.9v0.9h-0.9zM1065.5 537.0h0.9v0.9h-0.9zM1075.8 575.9h1.3v1.3h-1.3z" fill="#fff" fill-opacity=".28"/>
<path fill-rule="evenodd" d="M1854.29 133.93a20.48 26.06 0 1 0 40.96 0a20.48 26.06 0 1 0 -40.96 0ZM1863.78 122.27a1.37 1.79 0 1 0 2.74 0a1.37 1.79 0 1 0 -2.74 0ZM1863.78 145.60a1.37 1.79 0 1 0 2.74 0a1.37 1.79 0 1 0 -2.74 0ZM1883.02 122.27a1.37 1.79 0 1 0 2.74 0a1.37 1.79 0 1 0 -2.74 0ZM1883.02 145.60a1.37 1.79 0 1 0 2.74 0a1.37 1.79 0 1 0 -2.74 0ZM1873.97 133.93a0.80 0.80 0 1 0 1.60 0a0.80 0.80 0 1 0 -1.60 0Z" fill="#047306"/>
<path d="M1885.0 148.4h1.1v1.1h-1.1zM1888.1 141.3h1.2v1.2h-1.2zM1872.6 138.0h1.3v1.3h-1.3zM1859.9 145.3h1.1v1.1h-1.1zM1857.6 144.9h1.3v1.3h-1.3zM1878.2 136.1h1.2v1.2h-1.2zM1871.5 135.5h1.3v1.3h-1.3zM1871.9 112.5h0.7v0.7h-0.7zM1866.8 128.4h1.2v1.2h-1.2zM1862.7 146.7h0.9v0.9h-0.9zM1893.0 133.7h0.9v0.9h-0.9zM1884.8 127.2h1.1v1.1h-1.1zM1881.0 140.3h0.7v0.7h-0.7zM1863.7 138.7h0.7v0.7h-0.7z" fill="#fff" fill-opacity=".28"/>
<path fill-rule="evenodd" d="M1877.67 113.02a21.17 26.06 0 1 0 42.34 0a21.17 26.06 0 1 0 -42.34 0ZM1887.49 101.35a1.41 1.79 0 1 0 2.82 0a1.41 1.79 0 1 0 -2.82 0ZM1887.49 124.68a1.41 1.79 0 1 0 2.82 0a1.41 1.79 0 1 0 -2.82 0ZM1907.38 101.35a1.41 1.79 0 1 0 2.82 0a1.41 1.79 0 1 0 -2.82 0ZM1907.38 124.68a1.41 1.79 0 1 0 2.82 0a1.41 1.79 0 1 0 -2.82 0ZM1898.04 113.02a0.80 0.80 0 1 0 1.60 0a0.80 0.80 0 1 0 -1.60 0Z" fill="#047306"/>
<path d="M1892.7 107.2h1.3v1.3h-1.3zM1886.4 119.2h1.0v1.0h-1.0zM1897.3 90.9h1.2v1.2h-1.2zM1891.8 134.0h1.1v1.1h-1.1zM1893.7 114.5h0.9v0.9h-0.9zM1892.1 124.8h1.0v1.0h-1.0zM1901.9 124.5h0.6v0.6h-0.6zM1900.6 91.3h1.2v1.2h-1.2zM1887.8 112.7h0.8v0.8h-0.8zM1899.0 102.3h1.2v1.2h-1.2zM1899.4 97.3h1.1v1.1h-1.1zM1889.2 111.9h0.9v0.9h-0.9zM1900.3 120.1h0.7v0.7h-0.7zM1894.6 109.4h1.0v1.0h-1.0z" fill="#fff" fill-opacity=".28"/>
<path fill-rule="evenodd" d="M185.19 479.92a15.28 26.06 0 1 0 30.56 0a15.28 26.06 0 1 0 -30.56 0ZM192.28 468.26a1.02 1.79 0 1 0 2.04 0a1.02 1.79 0 1 0 -2.04 0ZM192.28 491.59a1.02 1.79 0 1 0 2.04 0a1.02 1.79 0 1 0 -2.04 0ZM206.63 468.26a1.02 1.79 0 1 0 2.04 0a1.02 1.79 0 1 0 -2.04 0ZM206.63 491.59a1.02 1.79 0 1 0 2.04 0a1.02 1.79 0 1 0 -2.04 0ZM199.67 479.92a0.80 0.80 0 1 0 1.60 0a0.80 0.80 0 1 0 -1.60 0Z" fill="#047306"/>
<path d="M206.6 459.0h0.7v0.7h-0.7zM197.1 496.1h0.7v0.7h-0.7zM211.0 491.6h0.8v0.8h-0.8zM199.6 456.1h0.9v0.9h-0.9zM200.5 474.3h1.2v1.2h-1.2zM208.9 497.2h0.9v0.9h-0.9zM211.8 473.4h0.9v0.9h-0.9zM202.9 484.1h1.2v1.2h-1.2zM194.5 475.2h0.8v0.8h-0.8zM193.2 467.8h1.0v1.0h-1.0zM187.8 472.6h0.6v0.6h-0.6zM208.1 464.9h1.3v1.3h-1.3zM201.8 484.0h0.8v0.8h-0.8zM203.9 497.4h0.8v0.8h-0.8z" fill="#fff" fill-opacity=".28"/>
<path fill-rule="evenodd" d="M191.49 548.34a15.08 26.06 0 1 0 30.16 0a15.08 26.06 0 1 0 -30.16 0ZM198.48 536.68a1.01 1.79 0 1 0 2.02 0a1.01 1.79 0 1 0 -2.02 0ZM198.48 560.01a1.01 1.79 0 1 0 2.02 0a1.01 1.79 0 1 0 -2.02 0ZM212.64 536.68a1.01 1.79 0 1 0 2.02 0a1.01 1.79 0 1 0 -2.02 0ZM212.64 560.01a1.01 1.79 0 1 0 2.02 0a1.01 1.79 0 1 0 -2.02 0ZM205.77 548.34a0.80 0.80 0 1 0 1.60 0a0.80 0.80 0 1 0 -1.60 0Z" fill="#047306"/>
<path d="M213.0 553.7h0.7v0.7h-0.7zM218.6 555.8h1.0v1.0h-1.0zM203.7 551.9h1.2v1.2h-1.2zM208.6 556.8h0.9v0.9h-0.9zM211.6 561.5h0.9v0.9h-0.9zM215.6 545.9h1.0v1.0h-1.0zM211.2 558.8h0.9v0.9h-0.9zM212.7 546.3h0.7v0.7h-0.7zM199.9 561.9h1.0v1.0h-1.0zM212.7 565.7h0.8v0.8h-0.8zM199.0 539.0h0.8v0.8h-0.8zM209.0 555.3h1.1v1.1h-1.1zM204.4 567.6h0.8v0.8h-0.8zM213.2 530.2h0.6v0.6h-0.6z" fill="#fff" fill-opacity=".28"/>
<path fill-rule="evenodd" d="M508.83 360.53a16.14 26.06 0 1 0 32.28 0a16.14 26.06 0 1 0 -32.28 0ZM516.31 348.86a1.08 1.79 0 1 0 2.16 0a1.08 1.79 0 1 0 -2.16 0ZM516.31 372.19a1.08 1.79 0 1 0 2.16 0a1.08 1.79 0 1 0 -2.16 0ZM531.47 348.86a1.08 1.79 0 1 0 2.16 0a1.08 1.79 0 1 0 -2.16 0ZM531.47 372.19a1.08 1.79 0 1 0 2.16 0a1.08 1.79 0 1 0 -2.16 0ZM524.17 360.53a0.80 0.80 0 1 0 1.60 0a0.80 0.80 0 1 0 -1.60 0Z" fill="#047306"/>
<path d="M531.4 339.6h0.7v0.7h-0.7zM521.5 376.7h0.7v0.7h-0.7zM536.0 372.2h0.8v0.8h-0.8zM524.1 336.7h0.9v0.9h-0.9zM525.0 354.9h1.2v1.2h-1.2zM533.9 377.8h0.9v0.9h-0.9zM536.9 354.0h0.9v0.9h-0.9zM527.5 364.8h1.2v1.2h-1.2zM518.7 355.9h0.8v0.8h-0.8zM517.3 348.4h1.0v1.0h-1.0zM511.6 353.2h0.6v0.6h-0.6zM533.0 345.6h1.3v1.3h-1.3zM526.3 364.6h0.8v0.8h-0.8zM528.6 378.0h0.8v0.8h-0.8z" fill="#fff" fill-opacity=".28"/>
<path fill-rule="evenodd" d="M536.73 336.88a16.40 26.06 0 1 0 32.80 0a16.40 26.06 0 1 0 -32.80 0ZM544.33 325.22a1.10 1.79 0 1 0 2.20 0a1.10 1.79 0 1 0 -2.20 0ZM544.33 348.55a1.10 1.79 0 1 0 2.20 0a1.10 1.79 0 1 0 -2.20 0ZM559.73 325.22a1.10 1.79 0 1 0 2.20 0a1.10 1.79 0 1 0 -2.20 0ZM559.73 348.55a1.10 1.79 0 1 0 2.20 0a1.10 1.79 0 1 0 -2.20 0ZM552.33 336.88a0.80 0.80 0 1 0 1.60 0a0.80 0.80 0 1 0 -1.60 0Z" fill="#047306"/>
<path d="M549.3 315.0h1.3v1.3h-1.3zM548.4 328.6h1.3v1.3h-1.3zM563.4 327.7h0.9v0.9h-0.9zM543.7 329.5h1.2v1.2h-1.2zM551.3 316.9h1.0v1.0h-1.0zM547.8 333.6h0.8v0.8h-0.8zM559.6 357.5h0.7v0.7h-0.7zM545.2 343.9h0.9v0.9h-0.9zM550.0 357.5h0.7v0.7h-0.7zM549.8 312.8h1.1v1.1h-1.1zM554.1 344.7h1.1v1.1h-1.1zM542.0 336.6h0.9v0.9h-0.9zM546.6 318.0h0.9v0.9h-0.9zM557.9 357.0h1.3v1.3h-1.3z" fill="#fff" fill-opacity=".28"/>
<path fill-rule="evenodd" d="M856.91 392.06a15.84 26.06 0 1 0 31.68 0a15.84 26.06 0 1 0 -31.68 0ZM864.25 380.39a1.06 1.79 0 1 0 2.12 0a1.06 1.79 0 1 0 -2.12 0ZM864.25 403.72a1.06 1.79 0 1 0 2.12 0a1.06 1.79 0 1 0 -2.12 0ZM879.13 380.39a1.06 1.79 0 1 0 2.12 0a1.06 1.79 0 1 0 -2.12 0ZM879.13 403.72a1.06 1.79 0 1 0 2.12 0a1.06 1.79 0 1 0 -2.12 0ZM871.95 392.06a0.80 0.80 0 1 0 1.60 0a0.80 0.80 0 1 0 -1.60 0Z" fill="#047306"/>
<path d="M879.6 397.4h0.7v0.7h-0.7zM885.4 399.6h1.0v1.0h-1.0zM869.7 395.7h1.2v1.2h-1.2zM874.9 400.5h0.9v0.9h-0.9zM878.0 405.2h0.9v0.9h-0.9zM882.3 389.6h1.0v1.0h-1.0zM877.6 402.5h0.9v0.9h-0.9zM879.2 390.0h0.7v0.7h-0.7zM865.8 405.6h1.0v1.0h-1.0zM879.1 409.4h0.8v0.8h-0.8zM864.8 382.7h0.8v0.8h-0.8zM875.3 399.0h1.1v1.1h-1.1zM870.5 411.4h0.8v0.8h-0.8zM879.7 373.9h0.6v0.6h-0.6z" fill="#fff" fill-opacity=".28"/>
<path fill-rule="evenodd" d="M895.38 399.84a15.77 26.06 0 1 0 31.54 0a15.77 26.06 0 1 0 -31.54 0ZM902.69 388.17a1.05 1.79 0 1 0 2.10 0a1.05 1.79 0 1 0 -2.10 0ZM902.69 411.50a1.05 1.79 0 1 0 2.10 0a1.05 1.79 0 1 0 -2.10 0ZM917.51 388.17a1.05 1.79 0 1 0 2.10 0a1.05 1.79 0 1 0 -2.10 0ZM917.51 411.50a1.05 1.79 0 1 0 2.10 0a1.05 1.79 0 1 0 -2.10 0ZM910.35 399.84a0.80 0.80 0 1 0 1.60 0a0.80 0.80 0 1 0 -1.60 0Z" fill="#047306"/>
<path d="M907.4 377.9h1.3v1.3h-1.3zM906.6 391.5h1.3v1.3h-1.3zM921.0 390.6h0.9v0.9h-0.9zM902.1 392.5h1.2v1.2h-1.2zM909.4 379.8h1.0v1.0h-1.0zM906.1 396.6h0.8v0.8h-0.8zM917.4 420.4h0.7v0.7h-0.7zM903.6 406.9h0.9v0.9h-0.9zM908.2 420.5h0.7v0.7h-0.7zM908.0 375.8h1.1v1.1h-1.1zM912.1 407.7h1.1v1.1h-1.1zM900.4 399.5h0.9v0.9h-0.9zM904.9 381.0h0.9v0.9h-0.9zM915.8 420.0h1.3v1.3h-1.3z" fill="#fff" fill-opacity=".28"/>
<path fill-rule="evenodd" d="M896.02 450.18a15.43 26.06 0 1 0 30.86 0a15.43 26.06 0 1 0 -30.86 0ZM903.18 438.51a1.03 1.79 0 1 0 2.06 0a1.03 1.79 0 1 0 -2.06 0ZM903.18 461.85a1.03 1.79 0 1 0 2.06 0a1.03 1.79 0 1 0 -2.06 0ZM917.67 438.51a1.03 1.79 0 1 0 2.06 0a1.03 1.79 0 1 0 -2.06 0ZM917.67 461.85a1.03 1.79 0 1 0 2.06 0a1.03 1.79 0 1 0 -2.06 0ZM910.65 450.18a0.80 0.80 0 1 0 1.60 0a0.80 0.80 0 1 0 -1.60 0Z" fill="#047306"/>
<path d="M917.6 429.3h0.7v0.7h-0.7zM908.1 466.3h0.7v0.7h-0.7zM922.0 461.8h0.8v0.8h-0.8zM910.6 426.4h0.9v0.9h-0.9zM911.5 444.6h1.2v1.2h-1.2zM920.0 467.5h0.9v0.9h-0.9zM922.9 443.7h0.9v0.9h-0.9zM913.9 454.4h1.2v1.2h-1.2zM905.4 445.5h0.8v0.8h-0.8zM904.1 438.0h1.0v1.0h-1.0zM898.6 442.8h0.6v0.6h-0.6zM919.2 435.2h1.3v1.3h-1.3zM912.8 454.2h0.8v0.8h-0.8zM914.9 467.7h0.8v0.8h-0.8z" fill="#fff" fill-opacity=".28"/>
<path fill-rule="evenodd" d="M908.82 341.19a16.35 26.06 0 1 0 32.70 0a16.35 26.06 0 1 0 -32.70 0ZM916.40 329.52a1.09 1.79 0 1 0 2.18 0a1.09 1.79 0 1 0 -2.18 0ZM916.40 352.86a1.09 1.79 0 1 0 2.18 0a1.09 1.79 0 1 0 -2.18 0ZM931.76 329.52a1.09 1.79 0 1 0 2.18 0a1.09 1.79 0 1 0 -2.18 0ZM931.76 352.86a1.09 1.79 0 1 0 2.18 0a1.09 1.79 0 1 0 -2.18 0ZM924.37 341.19a0.80 0.80 0 1 0 1.60 0a0.80 0.80 0 1 0 -1.60 0Z" fill="#047306"/>
<path d="M934.8 339.0h0.7v0.7h-0.7zM938.8 337.3h1.0v1.0h-1.0zM935.3 330.0h0.6v0.6h-0.6zM925.9 322.0h1.2v1.2h-1.2zM925.6 365.6h1.1v1.1h-1.1zM922.0 358.8h0.6v0.6h-0.6zM920.7 361.4h0.8v0.8h-0.8zM918.3 362.4h1.2v1.2h-1.2zM920.8 326.4h1.2v1.2h-1.2zM929.4 338.2h0.7v0.7h-0.7zM931.2 345.5h0.9v0.9h-0.9zM921.1 349.9h1.2v1.2h-1.2zM927.6 362.8h0.7v0.7h-0.7zM925.0 324.3h1.1v1.1h-1.1z" fill="#fff" fill-opacity=".28"/>
<path fill-rule="evenodd" d="M1066.72 455.64a15.39 26.06 0 1 0 30.78 0a15.39 26.06 0 1 0 -30.78 0ZM1073.85 443.98a1.03 1.79 0 1 0 2.06 0a1.03 1.79 0 1 0 -2.06 0ZM1073.85 467.31a1.03 1.79 0 1 0 2.06 0a1.03 1.79 0 1 0 -2.06 0ZM1088.31 443.98a1.03 1.79 0 1 0 2.06 0a1.03 1.79 0 1 0 -2.06 0ZM1088.31 467.31a1.03 1.79 0 1 0 2.06 0a1.03 1.79 0 1 0 -2.06 0ZM1081.31 455.64a0.80 0.80 0 1 0 1.60 0a0.80 0.80 0 1 0 -1.60 0Z" fill="#047306"/>
<path d="M1091.2 453.5h0.7v0.7h-0.7zM1095.0 451.7h1.0v1.0h-1.0zM1091.6 444.5h0.6v0.6h-0.6zM1082.8 436.5h1.2v1.2h-1.2zM1082.5 480.1h1.1v1.1h-1.1zM1079.1 473.2h0.6v0.6h-0.6zM1077.9 475.9h0.8v0.8h-0.8zM1075.6 476.9h1.2v1.2h-1.2zM1078.0 440.9h1.2v1.2h-1.2zM1086.1 452.7h0.7v0.7h-0.7zM1087.8 459.9h0.9v0.9h-0.9zM1078.3 464.4h1.2v1.2h-1.2zM1084.4 477.2h0.7v0.7h-0.7zM1082.0 438.8h1.1v1.1h-1.1z" fill="#fff" fill-opacity=".28"/>
<path fill-rule="evenodd" d="M1079.40 495.69a15.21 26.06 0 1 0 30.42 0a15.21 26.06 0 1 0 -30.42 0ZM1086.44 484.02a1.02 1.79 0 1 0 2.04 0a1.02 1.79 0 1 0 -2.04 0ZM1086.44 507.35a1.02 1.79 0 1 0 2.04 0a1.02 1.79 0 1 0 -2.04 0ZM1100.73 484.02a1.02 1.79 0 1 0 2.04 0a1.02 1.79 0 1 0 -2.04 0ZM1100.73 507.35a1.02 1.79 0 1 0 2.04 0a1.02 1.79 0 1 0 -2.04 0ZM1093.81 495.69a0.80 0.80 0 1 0 1.60 0a0.80 0.80 0 1 0 -1.60 0Z" fill="#047306"/>
<path d="M1098.6 495.4h0.8v0.8h-0.8zM1102.7 476.9h1.0v1.0h-1.0zM1083.8 482.7h1.3v1.3h-1.3zM1104.4 481.1h1.0v1.0h-1.0zM1089.9 514.1h1.2v1.2h-1.2zM1096.4 473.3h1.2v1.2h-1.2zM1084.3 505.2h1.0v1.0h-1.0zM1090.6 485.4h0.8v0.8h-0.8zM1087.0 514.2h0.8v0.8h-0.8zM1085.6 514.7h0.9v0.9h-0.9zM1088.4 479.3h0.7v0.7h-0.7zM1084.6 487.8h1.1v1.1h-1.1zM1083.7 502.0h0.7v0.7h-0.7zM1098.3 487.5h1.0v1.0h-1.0z" fill="#fff" fill-opacity=".28"/>
<path fill-rule="evenodd" d="M1063.02 520.49a15.13 26.06 0 1 0 30.26 0a15.13 26.06 0 1 0 -30.26 0ZM1070.03 508.82a1.01 1.79 0 1 0 2.02 0a1.01 1.79 0 1 0 -2.02 0ZM1070.03 532.16a1.01 1.79 0 1 0 2.02 0a1.01 1.79 0 1 0 -2.02 0ZM1084.25 508.82a1.01 1.79 0 1 0 2.02 0a1.01 1.79 0 1 0 -2.02 0ZM1084.25 532.16a1.01 1.79 0 1 0 2.02 0a1.01 1.79 0 1 0 -2.02 0ZM1077.35 520.49a0.80 0.80 0 1 0 1.60 0a0.80 0.80 0 1 0 -1.60 0Z" fill="#047306"/>
<path d="M1084.2 499.6h0.7v0.7h-0.7zM1074.9 536.6h0.7v0.7h-0.7zM1088.5 532.1h0.8v0.8h-0.8zM1077.3 496.7h0.9v0.9h-0.9zM1078.2 514.9h1.2v1.2h-1.2zM1086.5 537.8h0.9v0.9h-0.9zM1089.4 514.0h0.9v0.9h-0.9zM1080.5 524.7h1.2v1.2h-1.2zM1072.2 515.8h0.8v0.8h-0.8zM1070.9 508.3h1.0v1.0h-1.0zM1065.6 513.2h0.6v0.6h-0.6zM1085.7 505.5h1.3v1.3h-1.3zM1079.4 524.5h0.8v0.8h-0.8zM1081.5 538.0h0.8v0.8h-0.8z" fill="#fff" fill-opacity=".28"/>
<text transform="translate(1874.1 138.9)  scale(1 0.920)" font-size="18.5" text-anchor="middle" class="m" fill="#ffff00" stroke="#ffff00" stroke-width="0.67" >a1</text>
<text transform="translate(1898.1 118.0)  scale(1 0.920)" font-size="18.5" text-anchor="middle" class="m" fill="#ffff00" stroke="#ffff00" stroke-width="0.67" >a2</text>
<text transform="translate(1854.7 125.1)  scale(1 0.920)" font-size="18.5" text-anchor="middle" class="m" fill="#ffff00" stroke="#ffff00" stroke-width="0.67" >a3</text>
<text transform="translate(1877.6 91.5)  scale(1 0.920)" font-size="18.5" text-anchor="middle" class="m" fill="#ffff00" stroke="#ffff00" stroke-width="0.67" >a4</text>
<text transform="translate(181.5 507.6)  scale(1 0.920)" font-size="18.5" text-anchor="middle" class="m" fill="#ffff00" stroke="#ffff00" stroke-width="0.67" >b1</text>
<text transform="translate(199.8 484.9)  scale(1 0.920)" font-size="18.5" text-anchor="middle" class="m" fill="#ffff00" stroke="#ffff00" stroke-width="0.67" >b4</text>
<text transform="translate(205.9 553.3)  scale(1 0.920)" font-size="18.5" text-anchor="middle" class="m" fill="#ffff00" stroke="#ffff00" stroke-width="0.67" >b3</text>
<text transform="translate(189.0 579.0)  scale(1 0.920)" font-size="18.5" text-anchor="middle" class="m" fill="#ffff00" stroke="#ffff00" stroke-width="0.67" >b2</text>
<text transform="translate(436.3 395.7)  scale(1 0.920)" font-size="18.5" text-anchor="middle" class="m" fill="#ffff00" stroke="#ffff00" stroke-width="0.67" >c1</text>
<text transform="translate(460.5 344.2)  scale(1 0.920)" font-size="18.5" text-anchor="middle" class="m" fill="#ffff00" stroke="#ffff00" stroke-width="0.67" >c2</text>
<text transform="translate(524.3 365.5)  scale(1 0.920)" font-size="18.5" text-anchor="middle" class="m" fill="#ffff00" stroke="#ffff00" stroke-width="0.67" >c3</text>
<text transform="translate(552.4 341.9)  scale(1 0.920)" font-size="18.5" text-anchor="middle" class="m" fill="#ffff00" stroke="#ffff00" stroke-width="0.67" >c4</text>
<text transform="translate(872.1 397.1)  scale(1 0.920)" font-size="18.5" text-anchor="middle" class="m" fill="#ffff00" stroke="#ffff00" stroke-width="0.67" >d1</text>
<text transform="translate(910.4 404.8)  scale(1 0.920)" font-size="18.5" text-anchor="middle" class="m" fill="#ffff00" stroke="#ffff00" stroke-width="0.67" >d3</text>
<text transform="translate(910.8 455.2)  scale(1 0.920)" font-size="18.5" text-anchor="middle" class="m" fill="#ffff00" stroke="#ffff00" stroke-width="0.67" >d2</text>
<text transform="translate(924.5 346.2)  scale(1 0.920)" font-size="18.5" text-anchor="middle" class="m" fill="#ffff00" stroke="#ffff00" stroke-width="0.67" >d4</text>
<text transform="translate(1081.4 460.6)  scale(1 0.920)" font-size="18.5" text-anchor="middle" class="m" fill="#ffff00" stroke="#ffff00" stroke-width="0.67" >e3</text>
<text transform="translate(1093.9 500.7)  scale(1 0.920)" font-size="18.5" text-anchor="middle" class="m" fill="#ffff00" stroke="#ffff00" stroke-width="0.67" >e4</text>
<text transform="translate(1077.5 525.5)  scale(1 0.920)" font-size="18.5" text-anchor="middle" class="m" fill="#ffff00" stroke="#ffff00" stroke-width="0.67" >e1</text>
<text transform="translate(1070.7 560.8)  scale(1 0.920)" font-size="18.5" text-anchor="middle" class="m" fill="#ffff00" stroke="#ffff00" stroke-width="0.67" >e2</text>
<text transform="translate(166.0 66.3)  scale(1 0.860)" font-size="33.7" text-anchor="start" class="m" fill="#000" stroke="#000" stroke-width="1.21" >LK-MRS</text>
<text transform="translate(241.5 409.7)  scale(1 0.860)" font-size="33.0" text-anchor="middle" class="m" fill="#000" stroke="#000" stroke-width="1.19" >K2</text>
<text transform="translate(242.6 434.5)  scale(1 0.860)" font-size="25.5" text-anchor="middle" class="m" fill="#000" stroke="#000" stroke-width="0.92" >(b1-b4)</text>
<text transform="translate(561.2 246.1)  scale(1 0.860)" font-size="33.0" text-anchor="middle" class="m" fill="#000" stroke="#000" stroke-width="1.19" >K2</text>
<text transform="translate(562.2 270.6)  scale(1 0.860)" font-size="25.5" text-anchor="middle" class="m" fill="#000" stroke="#000" stroke-width="0.92" >(c1-c4)</text>
<text transform="translate(956.8 270.4)  scale(1 0.860)" font-size="33.0" text-anchor="middle" class="m" fill="#000" stroke="#000" stroke-width="1.19" >K2</text>
<text transform="translate(957.9 294.9)  scale(1 0.860)" font-size="25.5" text-anchor="middle" class="m" fill="#000" stroke="#000" stroke-width="0.92" >(d1-d4)</text>
<text transform="translate(1121.5 392.9)  scale(1 0.860)" font-size="33.0" text-anchor="middle" class="m" fill="#000" stroke="#000" stroke-width="1.19" >K2</text>
<text transform="translate(1122.6 417.6)  scale(1 0.860)" font-size="25.5" text-anchor="middle" class="m" fill="#000" stroke="#000" stroke-width="0.92" >(e1-e4)</text>
<text transform="translate(1883.0 233.1)  scale(1 0.860)" font-size="33.0" text-anchor="middle" class="m" fill="#000" stroke="#000" stroke-width="1.19" >K1</text>
<text transform="translate(1884.2 257.6)  scale(1 0.860)" font-size="25.5" text-anchor="middle" class="m" fill="#000" stroke="#000" stroke-width="0.92" >(a1-a4)</text>
<text transform="translate(224.7 636.8)  scale(1 0.910)" font-size="33.0" text-anchor="middle" class="m" fill="#0000ff" stroke="#0000ff" stroke-width="1.19" >C8</text>
<text transform="translate(485.4 495.4)  scale(1 0.910)" font-size="33.0" text-anchor="middle" class="m" fill="#0000ff" stroke="#0000ff" stroke-width="1.19" >C4</text>
<text transform="translate(554.9 473.4)  scale(1 0.910)" font-size="33.0" text-anchor="middle" class="m" fill="#0000ff" stroke="#0000ff" stroke-width="1.19" >C13</text>
<text transform="translate(882.3 515.0)  scale(1 0.910)" font-size="33.0" text-anchor="middle" class="m" fill="#0000ff" stroke="#0000ff" stroke-width="1.19" >C5</text>
<text transform="translate(950.9 497.4)  scale(1 0.910)" font-size="33.0" text-anchor="middle" class="m" fill="#0000ff" stroke="#0000ff" stroke-width="1.19" >C16</text>
<text transform="translate(1114.5 619.8)  scale(1 0.910)" font-size="33.0" text-anchor="middle" class="m" fill="#0000ff" stroke="#0000ff" stroke-width="1.19" >C14</text>
<text transform="translate(1599.7 464.3)  scale(1 0.860)" font-size="28.7" text-anchor="start" class="m" fill="#6ca6cd" stroke="#6ca6cd" stroke-width="1.03" font-style="italic" xml:space="preserve"> Kepler</text>
<text transform="translate(1599.7 505.5)  scale(1 0.860)" font-size="28.7" text-anchor="start" class="m" fill="#727f5a" stroke="#727f5a" stroke-width="1.03" xml:space="preserve"><tspan font-style="italic"> K</tspan>2</text>
<text transform="translate(1599.7 568.5)  scale(1 0.860)" font-size="28.7" text-anchor="start" class="m" fill="#007000" stroke="#007000" stroke-width="1.03" >Observed plates</text>
<text transform="translate(1599.7 610.5)  scale(1 0.860)" font-size="28.7" text-anchor="start" class="m" fill="#8b2323" stroke="#8b2323" stroke-width="1.03" >Remained plates</text>
<text transform="translate(1049.5 774.4)  scale(1 0.860)" font-size="38.3" text-anchor="middle" class="m" fill="#000" stroke="#000" stroke-width="1.38" >Right Ascension (degrees)</text>
<text transform="translate(27.5 348.5) rotate(-90) scale(1 0.860)" font-size="38.1" text-anchor="middle" class="m" fill="#000" stroke="#000" stroke-width="1.37" >Declination (degrees)</text>
<circle cx="1568.7" cy="456.6" r="5.9" fill="#6ca6cd"/>
<circle cx="1568.7" cy="498.7" r="5.9" fill="#727f5a"/>
<circle cx="1568.7" cy="561.7" r="5.9" fill="#007000"/>
<circle cx="1568.7" cy="603.7" r="5.9" fill="#8b2323"/>
</svg>
</body></html>
